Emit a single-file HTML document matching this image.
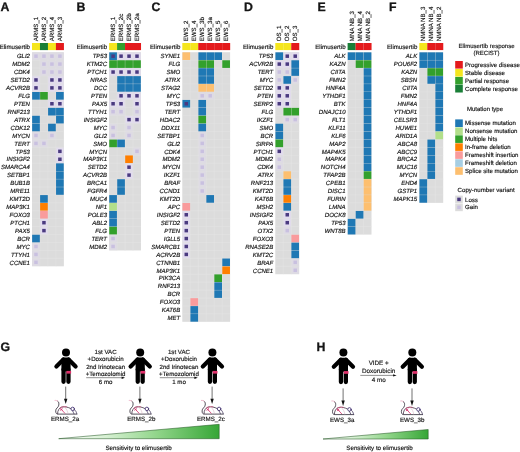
<!DOCTYPE html>
<html lang="en">
<head>
<meta charset="utf-8">
<title>Elimusertib response oncoplots</title>
<style>
html,body{margin:0;padding:0;background:#fff;}
body{width:520px;height:452px;overflow:hidden;}
svg{display:block;font-family:"Liberation Sans",Arial,Helvetica,sans-serif;}
svg text{fill:#161616;stroke:#161616;stroke-width:0.16px;text-rendering:geometricPrecision;}
svg text.b{stroke-width:0.3px;}
svg rect{shape-rendering:auto;}
</style>
</head>
<body>
<svg width="520" height="452" viewBox="0 0 520 452">
<defs>
<linearGradient id="gg" x1="0" y1="0" x2="1" y2="0"><stop offset="0" stop-color="#ffffff"/><stop offset="0.3" stop-color="#d6f0d2"/><stop offset="0.62" stop-color="#8fd488"/><stop offset="1" stop-color="#36a636"/></linearGradient>
<g id="person"><circle cx="0" cy="0" r="4"/><path d="M-2.6 7.2 L-9.6 14.1 M2.6 7.2 L9.6 14.1" stroke="#000" stroke-width="4.2" stroke-linecap="round" fill="none"/><rect x="-4.6" y="5.1" width="9.2" height="14" rx="2"/><path d="M-2.45 17 V29.4 M2.45 17 V29.4" stroke="#000" stroke-width="4.3" stroke-linecap="round" fill="none"/><rect x="0.4" y="18.5" width="4.7" height="2.7" fill="#e02f6a"/></g>
<g id="mouse" fill="none" stroke-linecap="round" stroke-linejoin="round"><path d="M-8.3 -12.9 C-7 -12.2 -7 -10.6 -7.2 -9 C-7.5 -6.4 -10.4 -6 -10.3 -3.2 C-10.3 -1 -9.6 0 -8 0 H10.9" stroke="#37313d" stroke-width="0.85"/><path d="M-11 -13.7 C-10 -13.9 -9 -13.5 -8.3 -12.9" stroke="#e89ab4" stroke-width="0.7"/><path d="M-8.4 -0.3 C-8.6 -3.6 -6.6 -6.2 -4.4 -7 C-1.4 -7.9 2.2 -6.9 4.6 -5.6" stroke="#4a3a4c" stroke-width="0.85"/><path d="M-6 -6.2 C-4.2 -7.4 -1.4 -7.7 0.4 -7.3" stroke="#d0567f" stroke-width="0.8"/><path d="M-1.8 -7.4 C0.6 -5.6 1.8 -2.6 2 -0.4" stroke="#d9b3c4" stroke-width="0.55"/><circle cx="6.7" cy="-5.2" r="1.75" stroke="#4b3a78" stroke-width="0.9"/><path d="M8.2 -4.6 C9.6 -3.8 10.4 -2.2 10.8 -0.3 M6.6 -3.3 C7.2 -2.2 7.6 -1.2 8 -0.3" stroke="#453a60" stroke-width="0.8"/><path d="M-5.6 -5.3 L-3.6 -3.9 M-5.4 -3.8 L-3.9 -5.6 M-4.6 -4.6 L-1.2 -0.9" stroke="#d63a72" stroke-width="0.85"/></g>
<g id="darrow"><path d="M0 0V12.8" stroke="#111" stroke-width="0.6" fill="none"/><path d="M-1.7 12.1 L1.7 12.1 L0 17.5 Z" fill="#111"/></g>
</defs>
<g id="panelA">
<text x="0.4" y="11.2" font-size="12.3" text-anchor="start" font-weight="bold" class="b">A</text>
<text font-size="6.1" transform="translate(38.09,41.2) rotate(-90)">ARMS_1</text>
<text font-size="6.1" transform="translate(46.05,41.2) rotate(-90)">ARMS_2</text>
<text font-size="6.1" transform="translate(54.02,41.2) rotate(-90)">ARMS_4</text>
<text font-size="6.1" transform="translate(61.99,41.2) rotate(-90)">ARMS_3</text>
<text x="30" y="48.7" font-size="6.15" text-anchor="end">Elimusertib</text>
<rect x="32" y="43" width="8.02" height="7.1" fill="#f5e61e"/>
<rect x="39.97" y="43" width="8.02" height="7.1" fill="#1a7f37"/>
<rect x="47.94" y="43" width="8.02" height="7.1" fill="#f5e61e"/>
<rect x="55.91" y="43" width="8.02" height="7.1" fill="#e41a1c"/>
<rect x="32" y="52.2" width="31.88" height="214.11" fill="#dcdcdc"/>
<path d="M39.97 52.2V266.31M47.94 52.2V266.31M55.91 52.2V266.31M32 60.13H63.88M32 68.06H63.88M32 75.99H63.88M32 83.92H63.88M32 91.85H63.88M32 99.78H63.88M32 107.71H63.88M32 115.64H63.88M32 123.57H63.88M32 131.5H63.88M32 139.43H63.88M32 147.36H63.88M32 155.29H63.88M32 163.22H63.88M32 171.15H63.88M32 179.08H63.88M32 187.01H63.88M32 194.94H63.88M32 202.87H63.88M32 210.8H63.88M32 218.73H63.88M32 226.66H63.88M32 234.59H63.88M32 242.52H63.88M32 250.45H63.88M32 258.38H63.88" stroke="#e4e4e4" stroke-width="0.5" fill="none"/>
<text x="29.9" y="58.4" font-size="6" text-anchor="end" font-style="italic">GLI2</text>
<rect x="32.3" y="52.5" width="7.37" height="7.33" fill="#dedbe4"/>
<rect x="34.23" y="54.42" width="3.5" height="3.5" fill="#c9c0e0"/>
<rect x="40.27" y="52.5" width="7.37" height="7.33" fill="#dedbe4"/>
<rect x="42.2" y="54.42" width="3.5" height="3.5" fill="#c9c0e0"/>
<rect x="48.24" y="52.5" width="7.37" height="7.33" fill="#dedbe4"/>
<rect x="50.17" y="54.42" width="3.5" height="3.5" fill="#c9c0e0"/>
<rect x="56.21" y="52.5" width="7.37" height="7.33" fill="#dedbe4"/>
<rect x="58.14" y="54.42" width="3.5" height="3.5" fill="#c9c0e0"/>
<text x="29.9" y="66.33" font-size="6" text-anchor="end" font-style="italic">MDM2</text>
<rect x="40.27" y="60.43" width="7.37" height="7.33" fill="#dedbe4"/>
<rect x="42.2" y="62.34" width="3.5" height="3.5" fill="#c9c0e0"/>
<rect x="48.24" y="60.43" width="7.37" height="7.33" fill="#dedbe4"/>
<rect x="50.17" y="62.34" width="3.5" height="3.5" fill="#c9c0e0"/>
<rect x="56.21" y="60.43" width="7.37" height="7.33" fill="#dedbe4"/>
<rect x="58.14" y="62.34" width="3.5" height="3.5" fill="#c9c0e0"/>
<text x="29.9" y="74.26" font-size="6" text-anchor="end" font-style="italic">CDK4</text>
<rect x="40.27" y="68.36" width="7.37" height="7.33" fill="#dedbe4"/>
<rect x="42.2" y="70.28" width="3.5" height="3.5" fill="#c9c0e0"/>
<rect x="48.24" y="68.36" width="7.37" height="7.33" fill="#dedbe4"/>
<rect x="50.17" y="70.28" width="3.5" height="3.5" fill="#c9c0e0"/>
<rect x="56.21" y="68.36" width="7.37" height="7.33" fill="#dedbe4"/>
<rect x="58.14" y="70.28" width="3.5" height="3.5" fill="#c9c0e0"/>
<text x="29.9" y="82.19" font-size="6" text-anchor="end" font-style="italic">SETD2</text>
<rect x="32.3" y="76.29" width="7.37" height="7.33" fill="#e2dcee"/>
<rect x="34.23" y="78.21" width="3.5" height="3.5" fill="#4a3a80"/>
<rect x="48.24" y="76.29" width="7.37" height="7.33" fill="#e2dcee"/>
<rect x="50.17" y="78.21" width="3.5" height="3.5" fill="#4a3a80"/>
<rect x="56.21" y="76.29" width="7.37" height="7.33" fill="#e2dcee"/>
<rect x="58.14" y="78.21" width="3.5" height="3.5" fill="#4a3a80"/>
<text x="29.9" y="90.12" font-size="6" text-anchor="end" font-style="italic">ACVR2B</text>
<rect x="32.3" y="84.22" width="7.37" height="7.33" fill="#e2dcee"/>
<rect x="34.23" y="86.14" width="3.5" height="3.5" fill="#4a3a80"/>
<rect x="48.24" y="84.22" width="7.37" height="7.33" fill="#e2dcee"/>
<rect x="50.17" y="86.14" width="3.5" height="3.5" fill="#4a3a80"/>
<rect x="56.21" y="84.22" width="7.37" height="7.33" fill="#e2dcee"/>
<rect x="58.14" y="86.14" width="3.5" height="3.5" fill="#4a3a80"/>
<text x="29.9" y="98.05" font-size="6" text-anchor="end" font-style="italic">FLG</text>
<rect x="32.15" y="92" width="7.67" height="7.63" fill="#1f78b4"/>
<rect x="40.12" y="92" width="7.67" height="7.63" fill="#33a02c"/>
<rect x="56.06" y="92" width="7.67" height="7.63" fill="#1f78b4"/>
<text x="29.9" y="105.98" font-size="6" text-anchor="end" font-style="italic">PTEN</text>
<rect x="48.24" y="100.08" width="7.37" height="7.33" fill="#e2dcee"/>
<rect x="50.17" y="102" width="3.5" height="3.5" fill="#4a3a80"/>
<rect x="56.21" y="100.08" width="7.37" height="7.33" fill="#e2dcee"/>
<rect x="58.14" y="102" width="3.5" height="3.5" fill="#4a3a80"/>
<text x="29.9" y="113.91" font-size="6" text-anchor="end" font-style="italic">RNF213</text>
<rect x="48.09" y="107.86" width="7.67" height="7.63" fill="#1f78b4"/>
<rect x="56.06" y="107.86" width="7.67" height="7.63" fill="#1f78b4"/>
<text x="29.9" y="121.84" font-size="6" text-anchor="end" font-style="italic">ATRX</text>
<rect x="32.15" y="115.79" width="7.67" height="7.63" fill="#1f78b4"/>
<rect x="56.06" y="115.79" width="7.67" height="7.63" fill="#1f78b4"/>
<text x="29.9" y="129.77" font-size="6" text-anchor="end" font-style="italic">CDK12</text>
<rect x="32.15" y="123.72" width="7.67" height="7.63" fill="#1f78b4"/>
<rect x="48.09" y="123.72" width="7.67" height="7.63" fill="#1f78b4"/>
<text x="29.9" y="137.7" font-size="6" text-anchor="end" font-style="italic">MYCN</text>
<rect x="32.3" y="131.8" width="7.37" height="7.33" fill="#dedbe4"/>
<rect x="34.23" y="133.72" width="3.5" height="3.5" fill="#c9c0e0"/>
<rect x="48.24" y="131.8" width="7.37" height="7.33" fill="#dedbe4"/>
<rect x="50.17" y="133.72" width="3.5" height="3.5" fill="#c9c0e0"/>
<text x="29.9" y="145.63" font-size="6" text-anchor="end" font-style="italic">TERT</text>
<rect x="32.3" y="139.73" width="7.37" height="7.33" fill="#dedbe4"/>
<rect x="34.23" y="141.65" width="3.5" height="3.5" fill="#c9c0e0"/>
<rect x="40.27" y="139.73" width="7.37" height="7.33" fill="#dedbe4"/>
<rect x="42.2" y="141.65" width="3.5" height="3.5" fill="#c9c0e0"/>
<text x="29.9" y="153.56" font-size="6" text-anchor="end" font-style="italic">TP53</text>
<rect x="56.21" y="147.66" width="7.37" height="7.33" fill="#e2dcee"/>
<rect x="58.14" y="149.58" width="3.5" height="3.5" fill="#4a3a80"/>
<text x="29.9" y="161.49" font-size="6" text-anchor="end" font-style="italic">INSIGF2</text>
<rect x="56.21" y="155.59" width="7.37" height="7.33" fill="#e2dcee"/>
<rect x="58.14" y="157.51" width="3.5" height="3.5" fill="#4a3a80"/>
<text x="29.9" y="169.42" font-size="6" text-anchor="end" font-style="italic">SMARCA4</text>
<rect x="56.06" y="163.37" width="7.67" height="7.63" fill="#1f78b4"/>
<text x="29.9" y="177.35" font-size="6" text-anchor="end" font-style="italic">SETBP1</text>
<rect x="56.06" y="171.3" width="7.67" height="7.63" fill="#1f78b4"/>
<text x="29.9" y="185.28" font-size="6" text-anchor="end" font-style="italic">BUB1B</text>
<rect x="56.06" y="179.23" width="7.67" height="7.63" fill="#1f78b4"/>
<text x="29.9" y="193.21" font-size="6" text-anchor="end" font-style="italic">MRE11</text>
<rect x="56.06" y="187.16" width="7.67" height="7.63" fill="#1f78b4"/>
<text x="29.9" y="201.14" font-size="6" text-anchor="end" font-style="italic">KMT2D</text>
<rect x="40.12" y="195.09" width="7.67" height="7.63" fill="#1f78b4"/>
<text x="29.9" y="209.07" font-size="6" text-anchor="end" font-style="italic">MAP3K1</text>
<rect x="40.12" y="203.02" width="7.67" height="7.63" fill="#ff7f00"/>
<text x="29.9" y="217" font-size="6" text-anchor="end" font-style="italic">FOXO3</text>
<rect x="40.12" y="210.95" width="7.67" height="7.63" fill="#f99b9c"/>
<text x="29.9" y="224.93" font-size="6" text-anchor="end" font-style="italic">PTCH1</text>
<rect x="40.27" y="219.03" width="7.37" height="7.33" fill="#e2dcee"/>
<rect x="42.2" y="220.95" width="3.5" height="3.5" fill="#4a3a80"/>
<text x="29.9" y="232.86" font-size="6" text-anchor="end" font-style="italic">PAX5</text>
<rect x="40.27" y="226.96" width="7.37" height="7.33" fill="#e2dcee"/>
<rect x="42.2" y="228.87" width="3.5" height="3.5" fill="#4a3a80"/>
<text x="29.9" y="240.79" font-size="6" text-anchor="end" font-style="italic">BCR</text>
<rect x="32.15" y="234.74" width="7.67" height="7.63" fill="#1f78b4"/>
<text x="29.9" y="248.72" font-size="6" text-anchor="end" font-style="italic">MYC</text>
<rect x="32.3" y="242.82" width="7.37" height="7.33" fill="#dedbe4"/>
<rect x="34.23" y="244.73" width="3.5" height="3.5" fill="#c9c0e0"/>
<text x="29.9" y="256.65" font-size="6" text-anchor="end" font-style="italic">TTYH1</text>
<rect x="32.3" y="250.75" width="7.37" height="7.33" fill="#dedbe4"/>
<rect x="34.23" y="252.66" width="3.5" height="3.5" fill="#c9c0e0"/>
<text x="29.9" y="264.58" font-size="6" text-anchor="end" font-style="italic">CCNE1</text>
<rect x="32.3" y="258.68" width="7.37" height="7.33" fill="#dedbe4"/>
<rect x="34.23" y="260.59" width="3.5" height="3.5" fill="#c9c0e0"/>
</g>
<g id="panelB">
<text x="76.4" y="11.2" font-size="12.3" text-anchor="start" font-weight="bold" class="b">B</text>
<text font-size="6.1" transform="translate(115.18,41.2) rotate(-90)">ERMS_1</text>
<text font-size="6.1" transform="translate(123.15,41.2) rotate(-90)">ERMS_2c</text>
<text font-size="6.1" transform="translate(131.12,41.2) rotate(-90)">ERMS_2b</text>
<text font-size="6.1" transform="translate(139.09,41.2) rotate(-90)">ERMS_2a</text>
<text x="107.1" y="48.7" font-size="6.15" text-anchor="end">Elimusertib</text>
<rect x="109.1" y="43" width="8.02" height="7.1" fill="#f5e61e"/>
<rect x="117.07" y="43" width="8.02" height="7.1" fill="#33a02c"/>
<rect x="125.04" y="43" width="8.02" height="7.1" fill="#e41a1c"/>
<rect x="133.01" y="43" width="8.02" height="7.1" fill="#e41a1c"/>
<rect x="109.1" y="52.2" width="31.88" height="198.25" fill="#dcdcdc"/>
<path d="M117.07 52.2V250.45M125.04 52.2V250.45M133.01 52.2V250.45M109.1 60.13H140.98M109.1 68.06H140.98M109.1 75.99H140.98M109.1 83.92H140.98M109.1 91.85H140.98M109.1 99.78H140.98M109.1 107.71H140.98M109.1 115.64H140.98M109.1 123.57H140.98M109.1 131.5H140.98M109.1 139.43H140.98M109.1 147.36H140.98M109.1 155.29H140.98M109.1 163.22H140.98M109.1 171.15H140.98M109.1 179.08H140.98M109.1 187.01H140.98M109.1 194.94H140.98M109.1 202.87H140.98M109.1 210.8H140.98M109.1 218.73H140.98M109.1 226.66H140.98M109.1 234.59H140.98M109.1 242.52H140.98" stroke="#e4e4e4" stroke-width="0.5" fill="none"/>
<text x="107" y="58.4" font-size="6" text-anchor="end" font-style="italic">TP53</text>
<rect x="109.25" y="52.35" width="7.67" height="7.63" fill="#1f78b4"/>
<rect x="111.33" y="54.42" width="3.5" height="3.5" fill="#4a3a80"/>
<rect x="117.37" y="52.5" width="7.37" height="7.33" fill="#e2dcee"/>
<rect x="119.3" y="54.42" width="3.5" height="3.5" fill="#4a3a80"/>
<rect x="125.34" y="52.5" width="7.37" height="7.33" fill="#e2dcee"/>
<rect x="127.27" y="54.42" width="3.5" height="3.5" fill="#4a3a80"/>
<rect x="133.31" y="52.5" width="7.37" height="7.33" fill="#e2dcee"/>
<rect x="135.25" y="54.42" width="3.5" height="3.5" fill="#4a3a80"/>
<text x="107" y="66.33" font-size="6" text-anchor="end" font-style="italic">KTM2C</text>
<rect x="109.25" y="60.28" width="7.67" height="7.63" fill="#33a02c"/>
<rect x="117.22" y="60.28" width="7.67" height="7.63" fill="#33a02c"/>
<rect x="125.19" y="60.28" width="7.67" height="7.63" fill="#33a02c"/>
<rect x="133.16" y="60.28" width="7.67" height="7.63" fill="#33a02c"/>
<text x="107" y="74.26" font-size="6" text-anchor="end" font-style="italic">PTCH1</text>
<rect x="109.4" y="68.36" width="7.37" height="7.33" fill="#e2dcee"/>
<rect x="111.33" y="70.28" width="3.5" height="3.5" fill="#4a3a80"/>
<rect x="117.37" y="68.36" width="7.37" height="7.33" fill="#e2dcee"/>
<rect x="119.3" y="70.28" width="3.5" height="3.5" fill="#4a3a80"/>
<rect x="125.34" y="68.36" width="7.37" height="7.33" fill="#e2dcee"/>
<rect x="127.27" y="70.28" width="3.5" height="3.5" fill="#4a3a80"/>
<rect x="133.31" y="68.36" width="7.37" height="7.33" fill="#e2dcee"/>
<rect x="135.25" y="70.28" width="3.5" height="3.5" fill="#4a3a80"/>
<text x="107" y="82.19" font-size="6" text-anchor="end" font-style="italic">NRAS</text>
<rect x="117.22" y="76.14" width="7.67" height="7.63" fill="#1f78b4"/>
<rect x="125.19" y="76.14" width="7.67" height="7.63" fill="#1f78b4"/>
<rect x="133.16" y="76.14" width="7.67" height="7.63" fill="#1f78b4"/>
<text x="107" y="90.12" font-size="6" text-anchor="end" font-style="italic">DCC</text>
<rect x="117.22" y="84.07" width="7.67" height="7.63" fill="#1f78b4"/>
<rect x="125.19" y="84.07" width="7.67" height="7.63" fill="#1f78b4"/>
<rect x="133.16" y="84.07" width="7.67" height="7.63" fill="#1f78b4"/>
<text x="107" y="98.05" font-size="6" text-anchor="end" font-style="italic">PTEN</text>
<rect x="117.37" y="92.15" width="7.37" height="7.33" fill="#e2dcee"/>
<rect x="119.3" y="94.06" width="3.5" height="3.5" fill="#4a3a80"/>
<rect x="125.34" y="92.15" width="7.37" height="7.33" fill="#e2dcee"/>
<rect x="127.27" y="94.06" width="3.5" height="3.5" fill="#4a3a80"/>
<rect x="133.31" y="92.15" width="7.37" height="7.33" fill="#e2dcee"/>
<rect x="135.25" y="94.06" width="3.5" height="3.5" fill="#4a3a80"/>
<text x="107" y="105.98" font-size="6" text-anchor="end" font-style="italic">PAX5</text>
<rect x="109.4" y="100.08" width="7.37" height="7.33" fill="#e2dcee"/>
<rect x="111.33" y="102" width="3.5" height="3.5" fill="#4a3a80"/>
<rect x="117.37" y="100.08" width="7.37" height="7.33" fill="#e2dcee"/>
<rect x="119.3" y="102" width="3.5" height="3.5" fill="#4a3a80"/>
<rect x="133.31" y="100.08" width="7.37" height="7.33" fill="#e2dcee"/>
<rect x="135.25" y="102" width="3.5" height="3.5" fill="#4a3a80"/>
<text x="107" y="113.91" font-size="6" text-anchor="end" font-style="italic">TTYH1</text>
<rect x="109.4" y="108.01" width="7.37" height="7.33" fill="#dedbe4"/>
<rect x="111.33" y="109.93" width="3.5" height="3.5" fill="#c9c0e0"/>
<rect x="117.37" y="108.01" width="7.37" height="7.33" fill="#dedbe4"/>
<rect x="119.3" y="109.93" width="3.5" height="3.5" fill="#c9c0e0"/>
<rect x="133.31" y="108.01" width="7.37" height="7.33" fill="#dedbe4"/>
<rect x="135.25" y="109.93" width="3.5" height="3.5" fill="#c9c0e0"/>
<text x="107" y="121.84" font-size="6" text-anchor="end" font-style="italic">INSIGF2</text>
<rect x="125.34" y="115.94" width="7.37" height="7.33" fill="#e2dcee"/>
<rect x="127.27" y="117.86" width="3.5" height="3.5" fill="#4a3a80"/>
<rect x="133.31" y="115.94" width="7.37" height="7.33" fill="#e2dcee"/>
<rect x="135.25" y="117.86" width="3.5" height="3.5" fill="#4a3a80"/>
<text x="107" y="129.77" font-size="6" text-anchor="end" font-style="italic">MYC</text>
<rect x="109.4" y="123.87" width="7.37" height="7.33" fill="#dedbe4"/>
<rect x="111.33" y="125.79" width="3.5" height="3.5" fill="#c9c0e0"/>
<rect x="125.34" y="123.87" width="7.37" height="7.33" fill="#dedbe4"/>
<rect x="127.27" y="125.79" width="3.5" height="3.5" fill="#c9c0e0"/>
<text x="107" y="137.7" font-size="6" text-anchor="end" font-style="italic">GLI2</text>
<rect x="109.4" y="131.8" width="7.37" height="7.33" fill="#dedbe4"/>
<rect x="111.33" y="133.72" width="3.5" height="3.5" fill="#c9c0e0"/>
<rect x="125.34" y="131.8" width="7.37" height="7.33" fill="#dedbe4"/>
<rect x="127.27" y="133.72" width="3.5" height="3.5" fill="#c9c0e0"/>
<text x="107" y="145.63" font-size="6" text-anchor="end" font-style="italic">SMO</text>
<rect x="109.25" y="139.58" width="7.67" height="7.63" fill="#33a02c"/>
<rect x="117.22" y="139.58" width="7.67" height="7.63" fill="#1f78b4"/>
<text x="107" y="153.56" font-size="6" text-anchor="end" font-style="italic">MYCN</text>
<rect x="133.31" y="147.66" width="7.37" height="7.33" fill="#dedbe4"/>
<rect x="135.25" y="149.58" width="3.5" height="3.5" fill="#c9c0e0"/>
<text x="107" y="161.49" font-size="6" text-anchor="end" font-style="italic">MAP3K1</text>
<rect x="125.19" y="155.44" width="7.67" height="7.63" fill="#ff7f00"/>
<text x="107" y="169.42" font-size="6" text-anchor="end" font-style="italic">SETD2</text>
<rect x="125.34" y="163.52" width="7.37" height="7.33" fill="#e2dcee"/>
<rect x="127.27" y="165.44" width="3.5" height="3.5" fill="#4a3a80"/>
<text x="107" y="177.35" font-size="6" text-anchor="end" font-style="italic">ACVR2B</text>
<rect x="125.34" y="171.45" width="7.37" height="7.33" fill="#e2dcee"/>
<rect x="127.27" y="173.36" width="3.5" height="3.5" fill="#4a3a80"/>
<text x="107" y="185.28" font-size="6" text-anchor="end" font-style="italic">BRCA1</text>
<rect x="117.22" y="179.23" width="7.67" height="7.63" fill="#1f78b4"/>
<text x="107" y="193.21" font-size="6" text-anchor="end" font-style="italic">FGFR4</text>
<rect x="117.22" y="187.16" width="7.67" height="7.63" fill="#1f78b4"/>
<text x="107" y="201.14" font-size="6" text-anchor="end" font-style="italic">MUC4</text>
<rect x="109.25" y="195.09" width="7.67" height="7.63" fill="#1f78b4"/>
<text x="107" y="209.07" font-size="6" text-anchor="end" font-style="italic">NF1</text>
<rect x="109.25" y="203.02" width="7.67" height="7.63" fill="#b2df8a"/>
<text x="107" y="217" font-size="6" text-anchor="end" font-style="italic">POLE3</text>
<rect x="109.25" y="210.95" width="7.67" height="7.63" fill="#1f78b4"/>
<text x="107" y="224.93" font-size="6" text-anchor="end" font-style="italic">ABL2</text>
<rect x="109.25" y="218.88" width="7.67" height="7.63" fill="#1f78b4"/>
<text x="107" y="232.86" font-size="6" text-anchor="end" font-style="italic">FLG</text>
<rect x="109.25" y="226.81" width="7.67" height="7.63" fill="#33a02c"/>
<text x="107" y="240.79" font-size="6" text-anchor="end" font-style="italic">TERT</text>
<rect x="109.4" y="234.89" width="7.37" height="7.33" fill="#dedbe4"/>
<rect x="111.33" y="236.8" width="3.5" height="3.5" fill="#c9c0e0"/>
<text x="107" y="248.72" font-size="6" text-anchor="end" font-style="italic">MDM2</text>
<rect x="109.4" y="242.82" width="7.37" height="7.33" fill="#dedbe4"/>
<rect x="111.33" y="244.73" width="3.5" height="3.5" fill="#c9c0e0"/>
</g>
<g id="panelC">
<text x="151.4" y="11.2" font-size="12.3" text-anchor="start" font-weight="bold" class="b">C</text>
<text font-size="6.1" transform="translate(188.39,41.2) rotate(-90)">EWS_2</text>
<text font-size="6.1" transform="translate(196.36,41.2) rotate(-90)">EWS_4</text>
<text font-size="6.1" transform="translate(204.33,41.2) rotate(-90)">EWS_3b</text>
<text font-size="6.1" transform="translate(212.3,41.2) rotate(-90)">EWS_3a</text>
<text font-size="6.1" transform="translate(220.27,41.2) rotate(-90)">EWS_5</text>
<text font-size="6.1" transform="translate(228.24,41.2) rotate(-90)">EWS_6</text>
<text x="180.3" y="48.7" font-size="6.15" text-anchor="end">Elimusertib</text>
<rect x="182.3" y="43" width="8.02" height="7.1" fill="#f5e61e"/>
<rect x="190.27" y="43" width="8.02" height="7.1" fill="#f5e61e"/>
<rect x="198.24" y="43" width="8.02" height="7.1" fill="#e41a1c"/>
<rect x="206.21" y="43" width="8.02" height="7.1" fill="#e41a1c"/>
<rect x="214.18" y="43" width="8.02" height="7.1" fill="#e41a1c"/>
<rect x="222.15" y="43" width="8.02" height="7.1" fill="#e41a1c"/>
<rect x="182.3" y="52.2" width="47.82" height="269.62" fill="#dcdcdc"/>
<path d="M190.27 52.2V321.82M198.24 52.2V321.82M206.21 52.2V321.82M214.18 52.2V321.82M222.15 52.2V321.82M182.3 60.13H230.12M182.3 68.06H230.12M182.3 75.99H230.12M182.3 83.92H230.12M182.3 91.85H230.12M182.3 99.78H230.12M182.3 107.71H230.12M182.3 115.64H230.12M182.3 123.57H230.12M182.3 131.5H230.12M182.3 139.43H230.12M182.3 147.36H230.12M182.3 155.29H230.12M182.3 163.22H230.12M182.3 171.15H230.12M182.3 179.08H230.12M182.3 187.01H230.12M182.3 194.94H230.12M182.3 202.87H230.12M182.3 210.8H230.12M182.3 218.73H230.12M182.3 226.66H230.12M182.3 234.59H230.12M182.3 242.52H230.12M182.3 250.45H230.12M182.3 258.38H230.12M182.3 266.31H230.12M182.3 274.24H230.12M182.3 282.17H230.12M182.3 290.1H230.12M182.3 298.03H230.12M182.3 305.96H230.12M182.3 313.89H230.12" stroke="#e4e4e4" stroke-width="0.5" fill="none"/>
<text x="180.2" y="58.4" font-size="6" text-anchor="end" font-style="italic">SYNE1</text>
<rect x="182.45" y="52.35" width="7.67" height="7.63" fill="#fdbf6f"/>
<rect x="198.39" y="52.35" width="7.67" height="7.63" fill="#1f78b4"/>
<rect x="206.36" y="52.35" width="7.67" height="7.63" fill="#1f78b4"/>
<rect x="214.33" y="52.35" width="7.67" height="7.63" fill="#1f78b4"/>
<text x="180.2" y="66.33" font-size="6" text-anchor="end" font-style="italic">FLG</text>
<rect x="198.39" y="60.28" width="7.67" height="7.63" fill="#33a02c"/>
<rect x="206.36" y="60.28" width="7.67" height="7.63" fill="#33a02c"/>
<rect x="222.3" y="60.28" width="7.67" height="7.63" fill="#33a02c"/>
<text x="180.2" y="74.26" font-size="6" text-anchor="end" font-style="italic">SMO</text>
<rect x="198.39" y="68.21" width="7.67" height="7.63" fill="#1f78b4"/>
<rect x="206.36" y="68.21" width="7.67" height="7.63" fill="#1f78b4"/>
<text x="180.2" y="82.19" font-size="6" text-anchor="end" font-style="italic">ATRX</text>
<rect x="198.39" y="76.14" width="7.67" height="7.63" fill="#1f78b4"/>
<rect x="206.36" y="76.14" width="7.67" height="7.63" fill="#1f78b4"/>
<text x="180.2" y="90.12" font-size="6" text-anchor="end" font-style="italic">STAG2</text>
<rect x="198.39" y="84.07" width="7.67" height="7.63" fill="#fdbf6f"/>
<rect x="206.36" y="84.07" width="7.67" height="7.63" fill="#fdbf6f"/>
<text x="180.2" y="98.05" font-size="6" text-anchor="end" font-style="italic">MYC</text>
<rect x="198.54" y="92.15" width="7.37" height="7.33" fill="#dedbe4"/>
<rect x="200.48" y="94.06" width="3.5" height="3.5" fill="#c9c0e0"/>
<rect x="206.51" y="92.15" width="7.37" height="7.33" fill="#dedbe4"/>
<rect x="208.45" y="94.06" width="3.5" height="3.5" fill="#c9c0e0"/>
<text x="180.2" y="105.98" font-size="6" text-anchor="end" font-style="italic">TP53</text>
<rect x="182.45" y="99.93" width="7.67" height="7.63" fill="#1f78b4"/>
<rect x="184.54" y="102" width="3.5" height="3.5" fill="#4a3a80"/>
<rect x="198.39" y="99.93" width="7.67" height="7.63" fill="#1f78b4"/>
<text x="180.2" y="113.91" font-size="6" text-anchor="end" font-style="italic">TERT</text>
<rect x="198.39" y="107.86" width="7.67" height="7.63" fill="#1f78b4"/>
<text x="180.2" y="121.84" font-size="6" text-anchor="end" font-style="italic">HDAC2</text>
<rect x="198.39" y="115.79" width="7.67" height="7.63" fill="#33a02c"/>
<text x="180.2" y="129.77" font-size="6" text-anchor="end" font-style="italic">DDX11</text>
<rect x="198.39" y="123.72" width="7.67" height="7.63" fill="#1f78b4"/>
<text x="180.2" y="137.7" font-size="6" text-anchor="end" font-style="italic">SETBP1</text>
<rect x="198.54" y="131.8" width="7.37" height="7.33" fill="#dedbe4"/>
<rect x="200.48" y="133.72" width="3.5" height="3.5" fill="#c9c0e0"/>
<text x="180.2" y="145.63" font-size="6" text-anchor="end" font-style="italic">GLI2</text>
<rect x="198.54" y="139.73" width="7.37" height="7.33" fill="#dedbe4"/>
<rect x="200.48" y="141.65" width="3.5" height="3.5" fill="#c9c0e0"/>
<text x="180.2" y="153.56" font-size="6" text-anchor="end" font-style="italic">CDK4</text>
<rect x="198.54" y="147.66" width="7.37" height="7.33" fill="#dedbe4"/>
<rect x="200.48" y="149.58" width="3.5" height="3.5" fill="#c9c0e0"/>
<text x="180.2" y="161.49" font-size="6" text-anchor="end" font-style="italic">MDM2</text>
<rect x="198.54" y="155.59" width="7.37" height="7.33" fill="#dedbe4"/>
<rect x="200.48" y="157.51" width="3.5" height="3.5" fill="#c9c0e0"/>
<text x="180.2" y="169.42" font-size="6" text-anchor="end" font-style="italic">MYCN</text>
<rect x="198.54" y="163.52" width="7.37" height="7.33" fill="#dedbe4"/>
<rect x="200.48" y="165.44" width="3.5" height="3.5" fill="#c9c0e0"/>
<text x="180.2" y="177.35" font-size="6" text-anchor="end" font-style="italic">IKZF1</text>
<rect x="198.54" y="171.45" width="7.37" height="7.33" fill="#dedbe4"/>
<rect x="200.48" y="173.36" width="3.5" height="3.5" fill="#c9c0e0"/>
<text x="180.2" y="185.28" font-size="6" text-anchor="end" font-style="italic">BRAF</text>
<rect x="198.54" y="179.38" width="7.37" height="7.33" fill="#dedbe4"/>
<rect x="200.48" y="181.29" width="3.5" height="3.5" fill="#c9c0e0"/>
<text x="180.2" y="193.21" font-size="6" text-anchor="end" font-style="italic">CCND1</text>
<rect x="198.54" y="187.31" width="7.37" height="7.33" fill="#dedbe4"/>
<rect x="200.48" y="189.22" width="3.5" height="3.5" fill="#c9c0e0"/>
<text x="180.2" y="201.14" font-size="6" text-anchor="end" font-style="italic">KMT2D</text>
<rect x="206.36" y="195.09" width="7.67" height="7.63" fill="#1f78b4"/>
<text x="180.2" y="209.07" font-size="6" text-anchor="end" font-style="italic">APC</text>
<rect x="182.45" y="203.02" width="7.67" height="7.63" fill="#f99b9c"/>
<text x="180.2" y="217" font-size="6" text-anchor="end" font-style="italic">INSIGF2</text>
<rect x="182.6" y="211.1" width="7.37" height="7.33" fill="#e2dcee"/>
<rect x="184.54" y="213.02" width="3.5" height="3.5" fill="#4a3a80"/>
<text x="180.2" y="224.93" font-size="6" text-anchor="end" font-style="italic">SETD2</text>
<rect x="182.6" y="219.03" width="7.37" height="7.33" fill="#e2dcee"/>
<rect x="184.54" y="220.95" width="3.5" height="3.5" fill="#4a3a80"/>
<text x="180.2" y="232.86" font-size="6" text-anchor="end" font-style="italic">PTEN</text>
<rect x="182.6" y="226.96" width="7.37" height="7.33" fill="#e2dcee"/>
<rect x="184.54" y="228.87" width="3.5" height="3.5" fill="#4a3a80"/>
<text x="180.2" y="240.79" font-size="6" text-anchor="end" font-style="italic">IGLL5</text>
<rect x="182.6" y="234.89" width="7.37" height="7.33" fill="#e2dcee"/>
<rect x="184.54" y="236.8" width="3.5" height="3.5" fill="#4a3a80"/>
<text x="180.2" y="248.72" font-size="6" text-anchor="end" font-style="italic">SMARCB1</text>
<rect x="182.6" y="242.82" width="7.37" height="7.33" fill="#e2dcee"/>
<rect x="184.54" y="244.73" width="3.5" height="3.5" fill="#4a3a80"/>
<text x="180.2" y="256.65" font-size="6" text-anchor="end" font-style="italic">ACRV2B</text>
<rect x="182.6" y="250.75" width="7.37" height="7.33" fill="#e2dcee"/>
<rect x="184.54" y="252.66" width="3.5" height="3.5" fill="#4a3a80"/>
<text x="180.2" y="264.58" font-size="6" text-anchor="end" font-style="italic">CTNNB1</text>
<rect x="222.3" y="258.53" width="7.67" height="7.63" fill="#1f78b4"/>
<text x="180.2" y="272.51" font-size="6" text-anchor="end" font-style="italic">MAP3K1</text>
<rect x="222.3" y="266.46" width="7.67" height="7.63" fill="#ff7f00"/>
<text x="180.2" y="280.44" font-size="6" text-anchor="end" font-style="italic">PIK3CA</text>
<rect x="214.33" y="274.39" width="7.67" height="7.63" fill="#33a02c"/>
<text x="180.2" y="288.37" font-size="6" text-anchor="end" font-style="italic">RNF213</text>
<rect x="214.33" y="282.32" width="7.67" height="7.63" fill="#1f78b4"/>
<text x="180.2" y="296.3" font-size="6" text-anchor="end" font-style="italic">BCR</text>
<rect x="214.33" y="290.25" width="7.67" height="7.63" fill="#1f78b4"/>
<text x="180.2" y="304.23" font-size="6" text-anchor="end" font-style="italic">FOXO3</text>
<rect x="190.42" y="298.18" width="7.67" height="7.63" fill="#f99b9c"/>
<text x="180.2" y="312.16" font-size="6" text-anchor="end" font-style="italic">KAT6B</text>
<rect x="190.42" y="306.11" width="7.67" height="7.63" fill="#1f78b4"/>
<text x="180.2" y="320.09" font-size="6" text-anchor="end" font-style="italic">MET</text>
<rect x="190.42" y="314.04" width="7.67" height="7.63" fill="#1f78b4"/>
</g>
<g id="panelD">
<text x="243.9" y="11.2" font-size="12.3" text-anchor="start" font-weight="bold" class="b">D</text>
<text font-size="6.1" transform="translate(281.39,41.2) rotate(-90)">OS_1</text>
<text font-size="6.1" transform="translate(289.36,41.2) rotate(-90)">OS_2</text>
<text font-size="6.1" transform="translate(297.33,41.2) rotate(-90)">OS_3</text>
<text x="273.3" y="48.7" font-size="6.15" text-anchor="end">Elimusertib</text>
<rect x="275.3" y="43" width="8.02" height="7.1" fill="#f5e61e"/>
<rect x="283.27" y="43" width="8.02" height="7.1" fill="#f5e61e"/>
<rect x="291.24" y="43" width="8.02" height="7.1" fill="#e41a1c"/>
<rect x="275.3" y="52.2" width="23.91" height="222.04" fill="#dcdcdc"/>
<path d="M283.27 52.2V274.24M291.24 52.2V274.24M275.3 60.13H299.21M275.3 68.06H299.21M275.3 75.99H299.21M275.3 83.92H299.21M275.3 91.85H299.21M275.3 99.78H299.21M275.3 107.71H299.21M275.3 115.64H299.21M275.3 123.57H299.21M275.3 131.5H299.21M275.3 139.43H299.21M275.3 147.36H299.21M275.3 155.29H299.21M275.3 163.22H299.21M275.3 171.15H299.21M275.3 179.08H299.21M275.3 187.01H299.21M275.3 194.94H299.21M275.3 202.87H299.21M275.3 210.8H299.21M275.3 218.73H299.21M275.3 226.66H299.21M275.3 234.59H299.21M275.3 242.52H299.21M275.3 250.45H299.21M275.3 258.38H299.21M275.3 266.31H299.21" stroke="#e4e4e4" stroke-width="0.5" fill="none"/>
<text x="273.2" y="58.4" font-size="6" text-anchor="end" font-style="italic">TP53</text>
<rect x="275.45" y="52.35" width="7.67" height="7.63" fill="#1f78b4"/>
<rect x="283.57" y="52.5" width="7.37" height="7.33" fill="#e2dcee"/>
<rect x="285.51" y="54.42" width="3.5" height="3.5" fill="#4a3a80"/>
<rect x="291.54" y="52.5" width="7.37" height="7.33" fill="#e2dcee"/>
<rect x="293.48" y="54.42" width="3.5" height="3.5" fill="#4a3a80"/>
<text x="273.2" y="66.33" font-size="6" text-anchor="end" font-style="italic">ACVR2B</text>
<rect x="275.6" y="60.43" width="7.37" height="7.33" fill="#e2dcee"/>
<rect x="277.54" y="62.34" width="3.5" height="3.5" fill="#4a3a80"/>
<rect x="283.57" y="60.43" width="7.37" height="7.33" fill="#e2dcee"/>
<rect x="285.51" y="62.34" width="3.5" height="3.5" fill="#4a3a80"/>
<rect x="291.39" y="60.28" width="7.67" height="7.63" fill="#1f78b4"/>
<text x="273.2" y="74.26" font-size="6" text-anchor="end" font-style="italic">TERT</text>
<rect x="275.6" y="68.36" width="7.37" height="7.33" fill="#dedbe4"/>
<rect x="277.54" y="70.28" width="3.5" height="3.5" fill="#c9c0e0"/>
<rect x="283.57" y="68.36" width="7.37" height="7.33" fill="#dedbe4"/>
<rect x="285.51" y="70.28" width="3.5" height="3.5" fill="#c9c0e0"/>
<rect x="291.39" y="68.21" width="7.67" height="7.63" fill="#1f78b4"/>
<text x="273.2" y="82.19" font-size="6" text-anchor="end" font-style="italic">MYC</text>
<rect x="275.6" y="76.29" width="7.37" height="7.33" fill="#dedbe4"/>
<rect x="277.54" y="78.21" width="3.5" height="3.5" fill="#c9c0e0"/>
<rect x="283.42" y="76.14" width="7.67" height="7.63" fill="#1f78b4"/>
<rect x="291.54" y="76.29" width="7.37" height="7.33" fill="#dedbe4"/>
<rect x="293.48" y="78.21" width="3.5" height="3.5" fill="#c9c0e0"/>
<text x="273.2" y="90.12" font-size="6" text-anchor="end" font-style="italic">SETD2</text>
<rect x="275.6" y="84.22" width="7.37" height="7.33" fill="#e2dcee"/>
<rect x="277.54" y="86.14" width="3.5" height="3.5" fill="#4a3a80"/>
<rect x="283.57" y="84.22" width="7.37" height="7.33" fill="#e2dcee"/>
<rect x="285.51" y="86.14" width="3.5" height="3.5" fill="#4a3a80"/>
<text x="273.2" y="98.05" font-size="6" text-anchor="end" font-style="italic">PTEN</text>
<rect x="275.6" y="92.15" width="7.37" height="7.33" fill="#e2dcee"/>
<rect x="277.54" y="94.06" width="3.5" height="3.5" fill="#4a3a80"/>
<rect x="283.57" y="92.15" width="7.37" height="7.33" fill="#e2dcee"/>
<rect x="285.51" y="94.06" width="3.5" height="3.5" fill="#4a3a80"/>
<text x="273.2" y="105.98" font-size="6" text-anchor="end" font-style="italic">SERP2</text>
<rect x="275.6" y="100.08" width="7.37" height="7.33" fill="#e2dcee"/>
<rect x="277.54" y="102" width="3.5" height="3.5" fill="#4a3a80"/>
<rect x="283.57" y="100.08" width="7.37" height="7.33" fill="#e2dcee"/>
<rect x="285.51" y="102" width="3.5" height="3.5" fill="#4a3a80"/>
<text x="273.2" y="113.91" font-size="6" text-anchor="end" font-style="italic">FLG</text>
<rect x="283.42" y="107.86" width="7.67" height="7.63" fill="#33a02c"/>
<rect x="291.39" y="107.86" width="7.67" height="7.63" fill="#33a02c"/>
<text x="273.2" y="121.84" font-size="6" text-anchor="end" font-style="italic">IKZF1</text>
<rect x="283.57" y="115.94" width="7.37" height="7.33" fill="#dedbe4"/>
<rect x="285.51" y="117.86" width="3.5" height="3.5" fill="#c9c0e0"/>
<rect x="291.54" y="115.94" width="7.37" height="7.33" fill="#dedbe4"/>
<rect x="293.48" y="117.86" width="3.5" height="3.5" fill="#c9c0e0"/>
<text x="273.2" y="129.77" font-size="6" text-anchor="end" font-style="italic">SMO</text>
<rect x="275.45" y="123.72" width="7.67" height="7.63" fill="#1f78b4"/>
<text x="273.2" y="137.7" font-size="6" text-anchor="end" font-style="italic">BCR</text>
<rect x="275.45" y="131.65" width="7.67" height="7.63" fill="#1f78b4"/>
<text x="273.2" y="145.63" font-size="6" text-anchor="end" font-style="italic">SIRPA</text>
<rect x="275.45" y="139.58" width="7.67" height="7.63" fill="#33a02c"/>
<text x="273.2" y="153.56" font-size="6" text-anchor="end" font-style="italic">PTCH1</text>
<rect x="275.6" y="147.66" width="7.37" height="7.33" fill="#e2dcee"/>
<rect x="277.54" y="149.58" width="3.5" height="3.5" fill="#4a3a80"/>
<text x="273.2" y="161.49" font-size="6" text-anchor="end" font-style="italic">MDM2</text>
<rect x="275.6" y="155.59" width="7.37" height="7.33" fill="#dedbe4"/>
<rect x="277.54" y="157.51" width="3.5" height="3.5" fill="#c9c0e0"/>
<text x="273.2" y="169.42" font-size="6" text-anchor="end" font-style="italic">CDK4</text>
<rect x="275.6" y="163.52" width="7.37" height="7.33" fill="#dedbe4"/>
<rect x="277.54" y="165.44" width="3.5" height="3.5" fill="#c9c0e0"/>
<text x="273.2" y="177.35" font-size="6" text-anchor="end" font-style="italic">ATRX</text>
<rect x="283.42" y="171.3" width="7.67" height="7.63" fill="#fdbf6f"/>
<text x="273.2" y="185.28" font-size="6" text-anchor="end" font-style="italic">RNF213</text>
<rect x="283.42" y="179.23" width="7.67" height="7.63" fill="#1f78b4"/>
<text x="273.2" y="193.21" font-size="6" text-anchor="end" font-style="italic">KMT2D</text>
<rect x="283.42" y="187.16" width="7.67" height="7.63" fill="#1f78b4"/>
<text x="273.2" y="201.14" font-size="6" text-anchor="end" font-style="italic">KAT6B</text>
<rect x="283.42" y="195.09" width="7.67" height="7.63" fill="#ff7f00"/>
<text x="273.2" y="209.07" font-size="6" text-anchor="end" font-style="italic">MSH2</text>
<rect x="283.42" y="203.02" width="7.67" height="7.63" fill="#1f78b4"/>
<text x="273.2" y="217" font-size="6" text-anchor="end" font-style="italic">INSIGF2</text>
<rect x="283.57" y="211.1" width="7.37" height="7.33" fill="#e2dcee"/>
<rect x="285.51" y="213.02" width="3.5" height="3.5" fill="#4a3a80"/>
<text x="273.2" y="224.93" font-size="6" text-anchor="end" font-style="italic">PAX5</text>
<rect x="283.57" y="219.03" width="7.37" height="7.33" fill="#e2dcee"/>
<rect x="285.51" y="220.95" width="3.5" height="3.5" fill="#4a3a80"/>
<text x="273.2" y="232.86" font-size="6" text-anchor="end" font-style="italic">OTX2</text>
<rect x="283.57" y="226.96" width="7.37" height="7.33" fill="#dedbe4"/>
<rect x="285.51" y="228.87" width="3.5" height="3.5" fill="#c9c0e0"/>
<text x="273.2" y="240.79" font-size="6" text-anchor="end" font-style="italic">FOXO3</text>
<rect x="291.39" y="234.74" width="7.67" height="7.63" fill="#f99b9c"/>
<text x="273.2" y="248.72" font-size="6" text-anchor="end" font-style="italic">RNASE2B</text>
<rect x="291.39" y="242.67" width="7.67" height="7.63" fill="#1f78b4"/>
<text x="273.2" y="256.65" font-size="6" text-anchor="end" font-style="italic">KMT2C</text>
<rect x="291.39" y="250.6" width="7.67" height="7.63" fill="#1f78b4"/>
<text x="273.2" y="264.58" font-size="6" text-anchor="end" font-style="italic">BRAF</text>
<rect x="291.54" y="258.68" width="7.37" height="7.33" fill="#dedbe4"/>
<rect x="293.48" y="260.59" width="3.5" height="3.5" fill="#c9c0e0"/>
<text x="273.2" y="272.51" font-size="6" text-anchor="end" font-style="italic">CCNE1</text>
<rect x="291.54" y="266.61" width="7.37" height="7.33" fill="#dedbe4"/>
<rect x="293.48" y="268.52" width="3.5" height="3.5" fill="#c9c0e0"/>
</g>
<g id="panelE">
<text x="317.4" y="11.2" font-size="12.3" text-anchor="start" font-weight="bold" class="b">E</text>
<text font-size="6.1" transform="translate(353.69,41.2) rotate(-90)">MNA NB_3</text>
<text font-size="6.1" transform="translate(361.66,41.2) rotate(-90)">MNA NB_4</text>
<text font-size="6.1" transform="translate(369.63,41.2) rotate(-90)">MNA NB_2</text>
<text x="345.6" y="48.7" font-size="6.15" text-anchor="end">Elimusertib</text>
<rect x="347.6" y="43" width="8.02" height="7.1" fill="#1a7f37"/>
<rect x="355.57" y="43" width="8.02" height="7.1" fill="#e41a1c"/>
<rect x="363.54" y="43" width="8.02" height="7.1" fill="#e41a1c"/>
<rect x="347.6" y="52.2" width="23.91" height="182.39" fill="#dcdcdc"/>
<path d="M355.57 52.2V234.59M363.54 52.2V234.59M347.6 60.13H371.51M347.6 68.06H371.51M347.6 75.99H371.51M347.6 83.92H371.51M347.6 91.85H371.51M347.6 99.78H371.51M347.6 107.71H371.51M347.6 115.64H371.51M347.6 123.57H371.51M347.6 131.5H371.51M347.6 139.43H371.51M347.6 147.36H371.51M347.6 155.29H371.51M347.6 163.22H371.51M347.6 171.15H371.51M347.6 179.08H371.51M347.6 187.01H371.51M347.6 194.94H371.51M347.6 202.87H371.51M347.6 210.8H371.51M347.6 218.73H371.51M347.6 226.66H371.51" stroke="#e4e4e4" stroke-width="0.5" fill="none"/>
<text x="345.5" y="58.4" font-size="6" text-anchor="end" font-style="italic">ALK</text>
<rect x="347.75" y="52.35" width="7.67" height="7.63" fill="#1f78b4"/>
<rect x="355.72" y="52.35" width="7.67" height="7.63" fill="#1f78b4"/>
<rect x="363.69" y="52.35" width="7.67" height="7.63" fill="#1f78b4"/>
<text x="345.5" y="66.33" font-size="6" text-anchor="end" font-style="italic">KAZN</text>
<rect x="355.72" y="60.28" width="7.67" height="7.63" fill="#33a02c"/>
<rect x="363.69" y="60.28" width="7.67" height="7.63" fill="#33a02c"/>
<text x="345.5" y="74.26" font-size="6" text-anchor="end" font-style="italic">CIITA</text>
<rect x="363.69" y="68.21" width="7.67" height="7.63" fill="#1f78b4"/>
<text x="345.5" y="82.19" font-size="6" text-anchor="end" font-style="italic">FMN2</text>
<rect x="363.69" y="76.14" width="7.67" height="7.63" fill="#1f78b4"/>
<text x="345.5" y="90.12" font-size="6" text-anchor="end" font-style="italic">HNF4A</text>
<rect x="363.69" y="84.07" width="7.67" height="7.63" fill="#1f78b4"/>
<text x="345.5" y="98.05" font-size="6" text-anchor="end" font-style="italic">YTHDF1</text>
<rect x="363.69" y="92" width="7.67" height="7.63" fill="#1f78b4"/>
<text x="345.5" y="105.98" font-size="6" text-anchor="end" font-style="italic">BTK</text>
<rect x="363.69" y="99.93" width="7.67" height="7.63" fill="#1f78b4"/>
<text x="345.5" y="113.91" font-size="6" text-anchor="end" font-style="italic">DNAJC10</text>
<rect x="363.69" y="107.86" width="7.67" height="7.63" fill="#1f78b4"/>
<text x="345.5" y="121.84" font-size="6" text-anchor="end" font-style="italic">FLT1</text>
<rect x="363.69" y="115.79" width="7.67" height="7.63" fill="#1f78b4"/>
<text x="345.5" y="129.77" font-size="6" text-anchor="end" font-style="italic">KLF11</text>
<rect x="363.69" y="123.72" width="7.67" height="7.63" fill="#1f78b4"/>
<text x="345.5" y="137.7" font-size="6" text-anchor="end" font-style="italic">KLF6</text>
<rect x="363.69" y="131.65" width="7.67" height="7.63" fill="#1f78b4"/>
<text x="345.5" y="145.63" font-size="6" text-anchor="end" font-style="italic">MAP2</text>
<rect x="363.69" y="139.58" width="7.67" height="7.63" fill="#1f78b4"/>
<text x="345.5" y="153.56" font-size="6" text-anchor="end" font-style="italic">MAP4K5</text>
<rect x="363.69" y="147.51" width="7.67" height="7.63" fill="#1f78b4"/>
<text x="345.5" y="161.49" font-size="6" text-anchor="end" font-style="italic">MAPK4</text>
<rect x="363.69" y="155.44" width="7.67" height="7.63" fill="#1f78b4"/>
<text x="345.5" y="169.42" font-size="6" text-anchor="end" font-style="italic">NOTCH4</text>
<rect x="363.69" y="163.37" width="7.67" height="7.63" fill="#1f78b4"/>
<text x="345.5" y="177.35" font-size="6" text-anchor="end" font-style="italic">TFAP2B</text>
<rect x="363.69" y="171.3" width="7.67" height="7.63" fill="#33a02c"/>
<text x="345.5" y="185.28" font-size="6" text-anchor="end" font-style="italic">CPEB1</text>
<rect x="363.69" y="179.23" width="7.67" height="7.63" fill="#fdbf6f"/>
<text x="345.5" y="193.21" font-size="6" text-anchor="end" font-style="italic">DISC1</text>
<rect x="363.69" y="187.16" width="7.67" height="7.63" fill="#fdbf6f"/>
<text x="345.5" y="201.14" font-size="6" text-anchor="end" font-style="italic">FURIN</text>
<rect x="363.69" y="195.09" width="7.67" height="7.63" fill="#fdbf6f"/>
<text x="345.5" y="209.07" font-size="6" text-anchor="end" font-style="italic">LMNA</text>
<rect x="363.69" y="203.02" width="7.67" height="7.63" fill="#fdbf6f"/>
<text x="345.5" y="217" font-size="6" text-anchor="end" font-style="italic">DOCK8</text>
<rect x="355.72" y="210.95" width="7.67" height="7.63" fill="#1f78b4"/>
<text x="345.5" y="224.93" font-size="6" text-anchor="end" font-style="italic">TP53</text>
<rect x="347.75" y="218.88" width="7.67" height="7.63" fill="#1f78b4"/>
<text x="345.5" y="232.86" font-size="6" text-anchor="end" font-style="italic">WNT8B</text>
<rect x="347.75" y="226.81" width="7.67" height="7.63" fill="#1f78b4"/>
</g>
<g id="panelF">
<text x="388.9" y="11.2" font-size="12.3" text-anchor="start" font-weight="bold" class="b">F</text>
<text font-size="6.1" transform="translate(425.39,41.2) rotate(-90)">NMNA NB_3</text>
<text font-size="6.1" transform="translate(433.36,41.2) rotate(-90)">NMNA NB_4</text>
<text font-size="6.1" transform="translate(441.33,41.2) rotate(-90)">NMNA NB_2</text>
<text x="417.3" y="48.7" font-size="6.15" text-anchor="end">Elimusertib</text>
<rect x="419.3" y="43" width="8.02" height="7.1" fill="#f5e61e"/>
<rect x="427.27" y="43" width="8.02" height="7.1" fill="#e41a1c"/>
<rect x="435.24" y="43" width="8.02" height="7.1" fill="#e41a1c"/>
<rect x="419.3" y="52.2" width="23.91" height="150.67" fill="#dcdcdc"/>
<path d="M427.27 52.2V202.87M435.24 52.2V202.87M419.3 60.13H443.21M419.3 68.06H443.21M419.3 75.99H443.21M419.3 83.92H443.21M419.3 91.85H443.21M419.3 99.78H443.21M419.3 107.71H443.21M419.3 115.64H443.21M419.3 123.57H443.21M419.3 131.5H443.21M419.3 139.43H443.21M419.3 147.36H443.21M419.3 155.29H443.21M419.3 163.22H443.21M419.3 171.15H443.21M419.3 179.08H443.21M419.3 187.01H443.21M419.3 194.94H443.21" stroke="#e4e4e4" stroke-width="0.5" fill="none"/>
<text x="417.2" y="58.4" font-size="6" text-anchor="end" font-style="italic">ALK</text>
<rect x="419.45" y="52.35" width="7.67" height="7.63" fill="#1f78b4"/>
<rect x="427.42" y="52.35" width="7.67" height="7.63" fill="#1f78b4"/>
<rect x="435.39" y="52.35" width="7.67" height="7.63" fill="#1f78b4"/>
<text x="417.2" y="66.33" font-size="6" text-anchor="end" font-style="italic">POU6F2</text>
<rect x="419.45" y="60.28" width="7.67" height="7.63" fill="#1f78b4"/>
<rect x="427.42" y="60.28" width="7.67" height="7.63" fill="#1f78b4"/>
<rect x="435.39" y="60.28" width="7.67" height="7.63" fill="#1f78b4"/>
<text x="417.2" y="74.26" font-size="6" text-anchor="end" font-style="italic">KAZN</text>
<rect x="427.42" y="68.21" width="7.67" height="7.63" fill="#33a02c"/>
<rect x="435.39" y="68.21" width="7.67" height="7.63" fill="#33a02c"/>
<text x="417.2" y="82.19" font-size="6" text-anchor="end" font-style="italic">SBSN</text>
<rect x="427.42" y="76.14" width="7.67" height="7.63" fill="#1f78b4"/>
<rect x="435.39" y="76.14" width="7.67" height="7.63" fill="#1f78b4"/>
<text x="417.2" y="90.12" font-size="6" text-anchor="end" font-style="italic">CIITA</text>
<rect x="435.39" y="84.07" width="7.67" height="7.63" fill="#1f78b4"/>
<text x="417.2" y="98.05" font-size="6" text-anchor="end" font-style="italic">FMN2</text>
<rect x="435.39" y="92" width="7.67" height="7.63" fill="#1f78b4"/>
<text x="417.2" y="105.98" font-size="6" text-anchor="end" font-style="italic">HNF4A</text>
<rect x="435.39" y="99.93" width="7.67" height="7.63" fill="#1f78b4"/>
<text x="417.2" y="113.91" font-size="6" text-anchor="end" font-style="italic">YTHDF1</text>
<rect x="435.39" y="107.86" width="7.67" height="7.63" fill="#1f78b4"/>
<text x="417.2" y="121.84" font-size="6" text-anchor="end" font-style="italic">CELSR3</text>
<rect x="435.39" y="115.79" width="7.67" height="7.63" fill="#1f78b4"/>
<text x="417.2" y="129.77" font-size="6" text-anchor="end" font-style="italic">HUWE1</text>
<rect x="435.39" y="123.72" width="7.67" height="7.63" fill="#1f78b4"/>
<text x="417.2" y="137.7" font-size="6" text-anchor="end" font-style="italic">ARID1A</text>
<rect x="435.39" y="131.65" width="7.67" height="7.63" fill="#b2df8a"/>
<text x="417.2" y="145.63" font-size="6" text-anchor="end" font-style="italic">ABCA8</text>
<rect x="427.42" y="139.58" width="7.67" height="7.63" fill="#1f78b4"/>
<text x="417.2" y="153.56" font-size="6" text-anchor="end" font-style="italic">ABCC9</text>
<rect x="427.42" y="147.51" width="7.67" height="7.63" fill="#1f78b4"/>
<text x="417.2" y="161.49" font-size="6" text-anchor="end" font-style="italic">BRCA2</text>
<rect x="427.42" y="155.44" width="7.67" height="7.63" fill="#1f78b4"/>
<text x="417.2" y="169.42" font-size="6" text-anchor="end" font-style="italic">MUC16</text>
<rect x="427.42" y="163.37" width="7.67" height="7.63" fill="#1f78b4"/>
<text x="417.2" y="177.35" font-size="6" text-anchor="end" font-style="italic">MYCN</text>
<rect x="427.42" y="171.3" width="7.67" height="7.63" fill="#1f78b4"/>
<text x="417.2" y="185.28" font-size="6" text-anchor="end" font-style="italic">EHD4</text>
<rect x="419.45" y="179.23" width="7.67" height="7.63" fill="#1f78b4"/>
<text x="417.2" y="193.21" font-size="6" text-anchor="end" font-style="italic">GSTP1</text>
<rect x="419.45" y="187.16" width="7.67" height="7.63" fill="#1f78b4"/>
<text x="417.2" y="201.14" font-size="6" text-anchor="end" font-style="italic">MAPK15</text>
<rect x="419.45" y="195.09" width="7.67" height="7.63" fill="#1f78b4"/>
</g>
<g id="legend">
<text x="486.5" y="48" font-size="6" text-anchor="middle">Elimusertib response</text>
<text x="486.5" y="55.2" font-size="6" text-anchor="middle">(RECIST)</text>
<rect x="455.2" y="61" width="7.6" height="7.6" fill="#e41a1c"/>
<text x="465" y="66.9" font-size="6.1" text-anchor="start">Progressive disease</text>
<rect x="455.2" y="68.97" width="7.6" height="7.6" fill="#f5e61e"/>
<text x="465" y="74.87" font-size="6.1" text-anchor="start">Stable disease</text>
<rect x="455.2" y="76.94" width="7.6" height="7.6" fill="#33a02c"/>
<text x="465" y="82.84" font-size="6.1" text-anchor="start">Partial response</text>
<rect x="455.2" y="84.91" width="7.6" height="7.6" fill="#1a7f37"/>
<text x="465" y="90.81" font-size="6.1" text-anchor="start">Complete response</text>
<text x="485" y="110.6" font-size="6" text-anchor="middle">Mutation type</text>
<rect x="455.2" y="119.4" width="7.6" height="7.6" fill="#1f78b4"/>
<text x="465" y="125.3" font-size="6.1" text-anchor="start">Missense mutation</text>
<rect x="455.2" y="127.37" width="7.6" height="7.6" fill="#b2df8a"/>
<text x="465" y="133.27" font-size="6.1" text-anchor="start">Nonsense mutation</text>
<rect x="455.2" y="135.34" width="7.6" height="7.6" fill="#33a02c"/>
<text x="465" y="141.24" font-size="6.1" text-anchor="start">Multiple hits</text>
<rect x="455.2" y="143.31" width="7.6" height="7.6" fill="#ff7f00"/>
<text x="465" y="149.21" font-size="6.1" text-anchor="start">In-frame deletion</text>
<rect x="455.2" y="151.28" width="7.6" height="7.6" fill="#f99b9c"/>
<text x="465" y="157.18" font-size="6.1" text-anchor="start">Frameshift insertion</text>
<rect x="455.2" y="159.25" width="7.6" height="7.6" fill="#a6cee3"/>
<text x="465" y="165.15" font-size="6.1" text-anchor="start">Frameshift deletion</text>
<rect x="455.2" y="167.22" width="7.6" height="7.6" fill="#fdbf6f"/>
<text x="465" y="173.12" font-size="6.1" text-anchor="start">Splice site mutation</text>
<text x="457.6" y="192.1" font-size="6.12" text-anchor="start">Copy-number variant</text>
<rect x="455.2" y="195.6" width="7.6" height="7.6" fill="#dcdcdc"/>
<rect x="457.25" y="197.65" width="3.5" height="3.5" fill="#4a3a80"/>
<text x="465" y="201.5" font-size="6.1" text-anchor="start">Loss</text>
<rect x="455.2" y="203.57" width="7.6" height="7.6" fill="#dcdcdc"/>
<rect x="457.25" y="205.62" width="3.5" height="3.5" fill="#c9c0e0"/>
<text x="465" y="209.47" font-size="6.1" text-anchor="start">Gain</text>
</g>
<g id="panelG">
<text x="0.6" y="351.2" font-size="12.3" text-anchor="start" font-weight="bold" class="b">G</text>
<use href="#person" x="66" y="352.4"/>
<use href="#darrow" x="65.7" y="386.6"/>
<use href="#mouse" x="66" y="414.1"/>
<use href="#person" x="140.2" y="352.4"/>
<use href="#darrow" x="139.9" y="386.6"/>
<use href="#mouse" x="140.2" y="414.1"/>
<use href="#person" x="212.4" y="352.4"/>
<use href="#darrow" x="212.1" y="386.6"/>
<use href="#mouse" x="212.4" y="414.1"/>
<text x="65" y="420.9" font-size="6.2" text-anchor="middle">ERMS_2a</text>
<text x="141.3" y="420.9" font-size="6.2" text-anchor="middle">ERMS_2b</text>
<text x="210.9" y="420.9" font-size="6.2" text-anchor="middle">ERMS_2c</text>
<text x="105.6" y="353.6" font-size="6.15" text-anchor="middle">1st VAC</text>
<text x="105.6" y="361.05" font-size="6.15" text-anchor="middle">+Doxorubicin</text>
<text x="105.6" y="368.5" font-size="6.15" text-anchor="middle">2nd Irinotecan</text>
<text x="105.6" y="375.95" font-size="6.15" text-anchor="middle">+Temozolomid</text>
<path d="M86.2 377.7H123" stroke="#222" stroke-width="0.5"/>
<path d="M121.6 376.5 L125 377.7 L121.6 378.9 Z" fill="#111"/>
<text x="105.6" y="384.3" font-size="6.15" text-anchor="middle">6 mo</text>
<text x="179" y="353.6" font-size="6.15" text-anchor="middle">1st VAC</text>
<text x="179" y="361.05" font-size="6.15" text-anchor="middle">+Doxorubicin</text>
<text x="179" y="368.5" font-size="6.15" text-anchor="middle">2nd Irinotecan</text>
<text x="179" y="375.95" font-size="6.15" text-anchor="middle">+Temozolomid</text>
<path d="M159.8 377.7H195.8" stroke="#222" stroke-width="0.5"/>
<path d="M194.4 376.5 L197.8 377.7 L194.4 378.9 Z" fill="#111"/>
<text x="179" y="384.3" font-size="6.15" text-anchor="middle">1 mo</text>
<path d="M58.7 438.7 L219.2 424.3 L219.2 438.7 Z" fill="url(#gg)" stroke="#265a26" stroke-width="0.55" stroke-linejoin="miter"/>
<text x="138.6" y="449.6" font-size="6.2" text-anchor="middle">Sensitivity to elimusertib</text>
</g>
<g id="panelH">
<text x="316.5" y="351.2" font-size="12.3" text-anchor="start" font-weight="bold" class="b">H</text>
<use href="#person" x="343.4" y="352.6"/>
<use href="#darrow" x="343.1" y="388.4"/>
<use href="#mouse" x="342.8" y="414.6"/>
<use href="#person" x="412.3" y="352.6"/>
<use href="#darrow" x="412" y="388.4"/>
<use href="#mouse" x="411.7" y="414.6"/>
<text x="342.2" y="422.3" font-size="6.2" text-anchor="middle">EWS_3a</text>
<text x="412.2" y="422.3" font-size="6.2" text-anchor="middle">EWS_3b</text>
<text x="378.7" y="365" font-size="6.3" text-anchor="middle">VIDE +</text>
<text x="378.7" y="372.9" font-size="6.3" text-anchor="middle">Doxorubicin</text>
<path d="M360.3 375.4H394.7" stroke="#222" stroke-width="0.5"/>
<path d="M393.1 374.2 L396.6 375.4 L393.1 376.6 Z" fill="#111"/>
<text x="378.7" y="381.8" font-size="6.3" text-anchor="middle">4 mo</text>
<path d="M323 439 L428.2 429.5 L428.2 439 Z" fill="url(#gg)" stroke="#265a26" stroke-width="0.55" stroke-linejoin="miter"/>
<text x="379.5" y="449.5" font-size="6.2" text-anchor="middle">Sensitivity to elimusertib</text>
</g>
</svg>
</body>
</html>
